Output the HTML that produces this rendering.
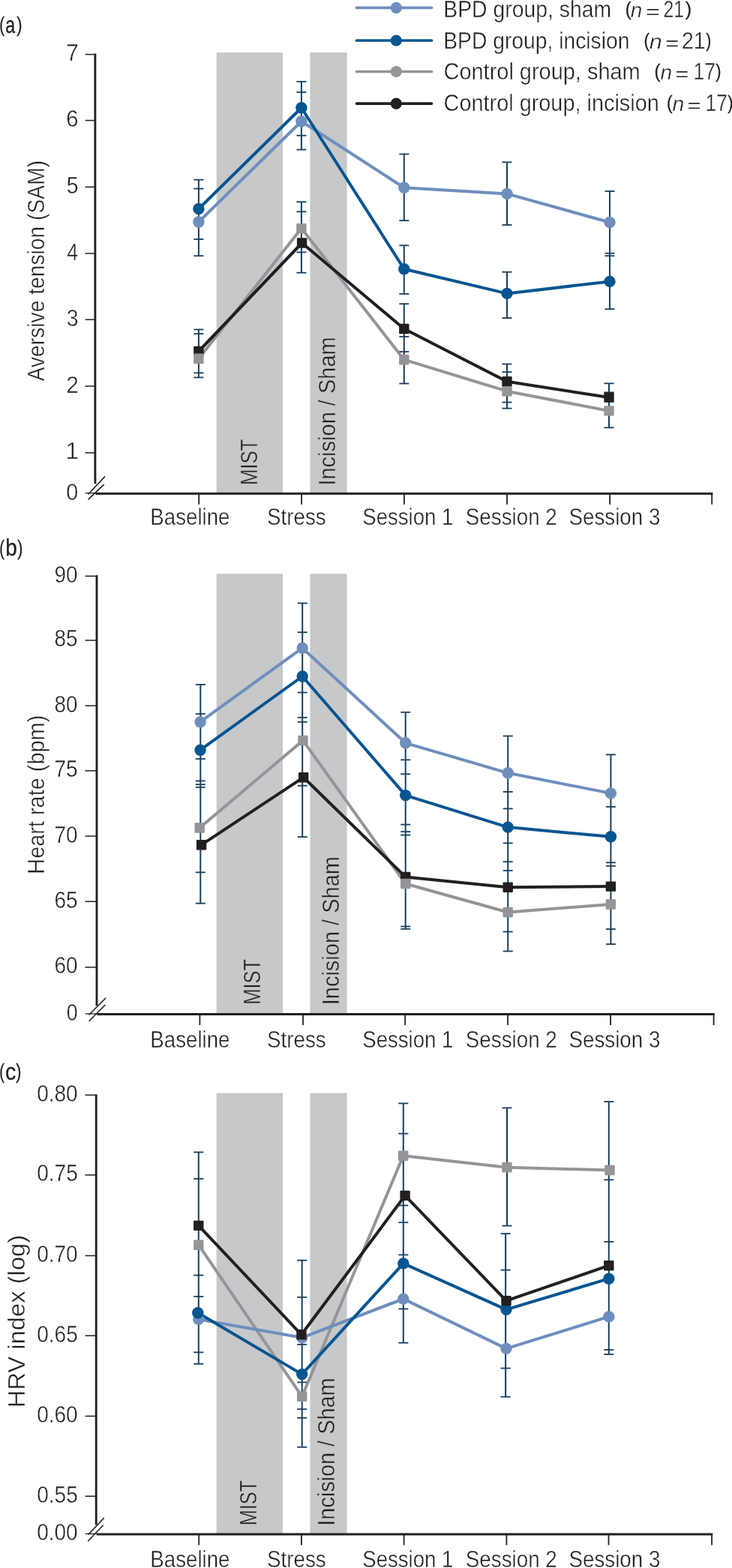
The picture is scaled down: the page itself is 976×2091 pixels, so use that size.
<!DOCTYPE html><html><head><meta charset="utf-8"><title>Figure</title><style>html,body{margin:0;padding:0;background:#fff;}svg{display:block;}text{font-family:"Liberation Sans",Arial,sans-serif;}</style></head><body>
<svg width="976" height="2091" viewBox="0 0 976 2091">
<rect width="976" height="2091" fill="#fff"/>
<rect x="288.7" y="70" width="88.40" height="588.20" fill="#c7c8ca"/>
<rect x="413.4" y="70" width="49.20" height="588.20" fill="#c7c8ca"/>
<text transform="translate(343.00,646.92) rotate(-90)" x="0" y="0" font-size="30.5" textLength="61.43" lengthAdjust="spacingAndGlyphs" fill="#231f20" stroke="#c7c8ca" stroke-width="0.4">MIST</text>
<text transform="translate(446.60,647.58) rotate(-90)" x="0" y="0" font-size="30.5" textLength="198.32" lengthAdjust="spacingAndGlyphs" fill="#231f20" stroke="#c7c8ca" stroke-width="0.4">Incision / Sham</text>
<line x1="126.9" y1="71.4" x2="126.9" y2="645.2" stroke="#231f20" stroke-width="2.9"/>
<line x1="113.5" y1="72.6" x2="126.9" y2="72.6" stroke="#231f20" stroke-width="1.5"/>
<text x="88.32" y="81.10" font-size="30.5" textLength="16.50" lengthAdjust="spacingAndGlyphs" fill="#231f20" stroke="#fff" stroke-width="0.4">7</text>
<line x1="113.5" y1="160.6" x2="126.9" y2="160.6" stroke="#231f20" stroke-width="1.5"/>
<text x="88.34" y="169.10" font-size="30.5" textLength="16.23" lengthAdjust="spacingAndGlyphs" fill="#231f20" stroke="#fff" stroke-width="0.4">6</text>
<line x1="113.5" y1="249.4" x2="126.9" y2="249.4" stroke="#231f20" stroke-width="1.5"/>
<text x="88.66" y="257.90" font-size="30.5" textLength="15.81" lengthAdjust="spacingAndGlyphs" fill="#231f20" stroke="#fff" stroke-width="0.4">5</text>
<line x1="113.5" y1="338.0" x2="126.9" y2="338.0" stroke="#231f20" stroke-width="1.5"/>
<text x="89.20" y="346.50" font-size="30.5" textLength="14.87" lengthAdjust="spacingAndGlyphs" fill="#231f20" stroke="#fff" stroke-width="0.4">4</text>
<line x1="113.5" y1="426.2" x2="126.9" y2="426.2" stroke="#231f20" stroke-width="1.5"/>
<text x="88.73" y="434.70" font-size="30.5" textLength="15.81" lengthAdjust="spacingAndGlyphs" fill="#231f20" stroke="#fff" stroke-width="0.4">3</text>
<line x1="113.5" y1="515.0" x2="126.9" y2="515.0" stroke="#231f20" stroke-width="1.5"/>
<text x="88.32" y="523.50" font-size="30.5" textLength="16.50" lengthAdjust="spacingAndGlyphs" fill="#231f20" stroke="#fff" stroke-width="0.4">2</text>
<line x1="113.5" y1="603.8" x2="126.9" y2="603.8" stroke="#231f20" stroke-width="1.5"/>
<text x="87.46" y="612.30" font-size="30.5" textLength="17.36" lengthAdjust="spacingAndGlyphs" fill="#231f20" stroke="#fff" stroke-width="0.4">1</text>
<line x1="113.8" y1="657.6" x2="127.9" y2="657.6" stroke="#231f20" stroke-width="1.3"/>
<text x="88.35" y="666.50" font-size="30.5" textLength="15.96" lengthAdjust="spacingAndGlyphs" fill="#231f20" stroke="#fff" stroke-width="0.4">0</text>
<line x1="127.4" y1="658.2" x2="950.4000000000001" y2="658.2" stroke="#231f20" stroke-width="2.9"/>
<line x1="265.2" y1="658.2" x2="265.2" y2="672.7" stroke="#231f20" stroke-width="1.8"/>
<line x1="402.1" y1="658.2" x2="402.1" y2="672.7" stroke="#231f20" stroke-width="1.8"/>
<line x1="538.9" y1="658.2" x2="538.9" y2="672.7" stroke="#231f20" stroke-width="1.8"/>
<line x1="676.0" y1="658.2" x2="676.0" y2="672.7" stroke="#231f20" stroke-width="1.8"/>
<line x1="813.1" y1="658.2" x2="813.1" y2="672.7" stroke="#231f20" stroke-width="1.8"/>
<line x1="949.2" y1="658.2" x2="949.2" y2="672.7" stroke="#231f20" stroke-width="1.8"/>
<line x1="117.5" y1="659.30" x2="140.0" y2="635.40" stroke="#231f20" stroke-width="1.6"/>
<line x1="117.5" y1="666.10" x2="138.7" y2="646.10" stroke="#231f20" stroke-width="1.6"/>
<text x="200.32" y="700.00" font-size="30.5" textLength="106.19" lengthAdjust="spacingAndGlyphs" fill="#231f20" stroke="#fff" stroke-width="0.4">Baseline</text>
<text x="356.05" y="700.00" font-size="30.5" textLength="78.59" lengthAdjust="spacingAndGlyphs" fill="#231f20" stroke="#fff" stroke-width="0.4">Stress</text>
<text x="483.26" y="700.00" font-size="30.5" textLength="121.10" lengthAdjust="spacingAndGlyphs" fill="#231f20" stroke="#fff" stroke-width="0.4">Session 1</text>
<text x="620.75" y="700.00" font-size="30.5" textLength="122.09" lengthAdjust="spacingAndGlyphs" fill="#231f20" stroke="#fff" stroke-width="0.4">Session 2</text>
<text x="758.45" y="700.00" font-size="30.5" textLength="121.88" lengthAdjust="spacingAndGlyphs" fill="#231f20" stroke="#fff" stroke-width="0.4">Session 3</text>
<text transform="translate(59.30,508.37) rotate(-90)" x="0" y="0" font-size="30.5" textLength="294.46" lengthAdjust="spacingAndGlyphs" fill="#231f20" stroke="#fff" stroke-width="0.4">Aversive tension (SAM)</text>
<text transform="matrix(0.20377,0,0,0.26810,-0.67,42.44)" x="0" y="0" font-size="100" fill="#231f20" stroke="#231f20" stroke-width="1.284">(</text>
<text transform="matrix(0.23107,0,0,0.31781,7.22,44.38)" x="0" y="0" font-size="100" fill="#231f20" stroke="#231f20" stroke-width="1.107">a</text>
<text transform="matrix(0.21887,0,0,0.26810,22.34,42.44)" x="0" y="0" font-size="100" fill="#231f20" stroke="#231f20" stroke-width="1.238">)</text>
<polyline points="264.90,478.20 401.90,304.60 538.80,479.70 676.00,521.70 812.00,547.90" fill="none" stroke="#949598" stroke-width="4.0" stroke-linejoin="round"/>
<polyline points="264.90,468.50 402.60,324.00 538.80,438.50 676.00,508.80 812.00,530.00" fill="none" stroke="#231f20" stroke-width="4.0" stroke-linejoin="round"/>
<polyline points="264.90,296.00 401.90,161.70 538.80,250.30 676.00,258.40 813.00,296.50" fill="none" stroke="#6e8fbd" stroke-width="4.0" stroke-linejoin="round"/>
<polyline points="264.90,278.50 401.90,143.80 538.80,358.80 676.00,391.40 813.00,375.40" fill="none" stroke="#075591" stroke-width="4.0" stroke-linejoin="round"/>
<line x1="264.9" y1="239.7" x2="264.9" y2="341.2" stroke="#163f60" stroke-width="2"/>
<line x1="258.40" y1="239.7" x2="271.40" y2="239.7" stroke="#163f60" stroke-width="1.8"/>
<line x1="258.40" y1="251.6" x2="271.40" y2="251.6" stroke="#163f60" stroke-width="1.8"/>
<line x1="258.40" y1="319.0" x2="271.40" y2="319.0" stroke="#163f60" stroke-width="1.8"/>
<line x1="258.40" y1="341.2" x2="271.40" y2="341.2" stroke="#163f60" stroke-width="1.8"/>
<line x1="264.9" y1="439.4" x2="264.9" y2="503.4" stroke="#163f60" stroke-width="2"/>
<line x1="258.40" y1="439.4" x2="271.40" y2="439.4" stroke="#163f60" stroke-width="1.8"/>
<line x1="258.40" y1="445.1" x2="271.40" y2="445.1" stroke="#163f60" stroke-width="1.8"/>
<line x1="258.40" y1="497.3" x2="271.40" y2="497.3" stroke="#163f60" stroke-width="1.8"/>
<line x1="258.40" y1="503.4" x2="271.40" y2="503.4" stroke="#163f60" stroke-width="1.8"/>
<line x1="401.9" y1="108.8" x2="401.9" y2="199.6" stroke="#163f60" stroke-width="2"/>
<line x1="395.40" y1="108.8" x2="408.40" y2="108.8" stroke="#163f60" stroke-width="1.8"/>
<line x1="395.40" y1="123.0" x2="408.40" y2="123.0" stroke="#163f60" stroke-width="1.8"/>
<line x1="395.40" y1="180.7" x2="408.40" y2="180.7" stroke="#163f60" stroke-width="1.8"/>
<line x1="395.40" y1="199.6" x2="408.40" y2="199.6" stroke="#163f60" stroke-width="1.8"/>
<line x1="401.9" y1="269.2" x2="401.9" y2="363.7" stroke="#163f60" stroke-width="2"/>
<line x1="395.40" y1="269.2" x2="408.40" y2="269.2" stroke="#163f60" stroke-width="1.8"/>
<line x1="395.40" y1="282.3" x2="408.40" y2="282.3" stroke="#163f60" stroke-width="1.8"/>
<line x1="395.40" y1="336.4" x2="408.40" y2="336.4" stroke="#163f60" stroke-width="1.8"/>
<line x1="395.40" y1="363.7" x2="408.40" y2="363.7" stroke="#163f60" stroke-width="1.8"/>
<line x1="538.8" y1="205.5" x2="538.8" y2="294.1" stroke="#163f60" stroke-width="2"/>
<line x1="532.30" y1="205.5" x2="545.30" y2="205.5" stroke="#163f60" stroke-width="1.8"/>
<line x1="532.30" y1="294.1" x2="545.30" y2="294.1" stroke="#163f60" stroke-width="1.8"/>
<line x1="538.8" y1="327.3" x2="538.8" y2="391.9" stroke="#163f60" stroke-width="2"/>
<line x1="532.30" y1="327.3" x2="545.30" y2="327.3" stroke="#163f60" stroke-width="1.8"/>
<line x1="532.30" y1="391.9" x2="545.30" y2="391.9" stroke="#163f60" stroke-width="1.8"/>
<line x1="538.8" y1="405.2" x2="538.8" y2="511.5" stroke="#163f60" stroke-width="2"/>
<line x1="532.30" y1="405.2" x2="545.30" y2="405.2" stroke="#163f60" stroke-width="1.8"/>
<line x1="532.30" y1="448.9" x2="545.30" y2="448.9" stroke="#163f60" stroke-width="1.8"/>
<line x1="532.30" y1="469.0" x2="545.30" y2="469.0" stroke="#163f60" stroke-width="1.8"/>
<line x1="532.30" y1="511.5" x2="545.30" y2="511.5" stroke="#163f60" stroke-width="1.8"/>
<line x1="676.0" y1="216.3" x2="676.0" y2="300.0" stroke="#163f60" stroke-width="2"/>
<line x1="669.50" y1="216.3" x2="682.50" y2="216.3" stroke="#163f60" stroke-width="1.8"/>
<line x1="669.50" y1="300.0" x2="682.50" y2="300.0" stroke="#163f60" stroke-width="1.8"/>
<line x1="676.0" y1="362.7" x2="676.0" y2="424.1" stroke="#163f60" stroke-width="2"/>
<line x1="669.50" y1="362.7" x2="682.50" y2="362.7" stroke="#163f60" stroke-width="1.8"/>
<line x1="669.50" y1="424.1" x2="682.50" y2="424.1" stroke="#163f60" stroke-width="1.8"/>
<line x1="676.0" y1="485.5" x2="676.0" y2="544.6" stroke="#163f60" stroke-width="2"/>
<line x1="669.50" y1="485.5" x2="682.50" y2="485.5" stroke="#163f60" stroke-width="1.8"/>
<line x1="669.50" y1="496.1" x2="682.50" y2="496.1" stroke="#163f60" stroke-width="1.8"/>
<line x1="669.50" y1="536.5" x2="682.50" y2="536.5" stroke="#163f60" stroke-width="1.8"/>
<line x1="669.50" y1="544.6" x2="682.50" y2="544.6" stroke="#163f60" stroke-width="1.8"/>
<line x1="813.0" y1="255.0" x2="813.0" y2="412.2" stroke="#163f60" stroke-width="2"/>
<line x1="806.50" y1="255.0" x2="819.50" y2="255.0" stroke="#163f60" stroke-width="1.8"/>
<line x1="806.50" y1="337.8" x2="819.50" y2="337.8" stroke="#163f60" stroke-width="1.8"/>
<line x1="806.50" y1="341.2" x2="819.50" y2="341.2" stroke="#163f60" stroke-width="1.8"/>
<line x1="806.50" y1="412.2" x2="819.50" y2="412.2" stroke="#163f60" stroke-width="1.8"/>
<line x1="812.0" y1="511.3" x2="812.0" y2="570.3" stroke="#163f60" stroke-width="2"/>
<line x1="805.50" y1="511.3" x2="818.50" y2="511.3" stroke="#163f60" stroke-width="1.8"/>
<line x1="805.50" y1="523.3" x2="818.50" y2="523.3" stroke="#163f60" stroke-width="1.8"/>
<line x1="805.50" y1="570.3" x2="818.50" y2="570.3" stroke="#163f60" stroke-width="1.8"/>
<circle cx="264.90" cy="296.00" r="7.7" fill="#6e8fbd"/>
<circle cx="401.90" cy="161.70" r="7.7" fill="#6e8fbd"/>
<circle cx="538.80" cy="250.30" r="7.7" fill="#6e8fbd"/>
<circle cx="676.00" cy="258.40" r="7.7" fill="#6e8fbd"/>
<circle cx="813.00" cy="296.50" r="7.7" fill="#6e8fbd"/>
<circle cx="264.90" cy="278.50" r="7.7" fill="#075591"/>
<circle cx="401.90" cy="143.80" r="7.7" fill="#075591"/>
<circle cx="538.80" cy="358.80" r="7.7" fill="#075591"/>
<circle cx="676.00" cy="391.40" r="7.7" fill="#075591"/>
<circle cx="813.00" cy="375.40" r="7.7" fill="#075591"/>
<rect x="258.20" y="461.80" width="13.4" height="13.4" rx="1" fill="#231f20"/>
<rect x="395.90" y="317.30" width="13.4" height="13.4" rx="1" fill="#231f20"/>
<rect x="532.10" y="431.80" width="13.4" height="13.4" rx="1" fill="#231f20"/>
<rect x="669.30" y="502.10" width="13.4" height="13.4" rx="1" fill="#231f20"/>
<rect x="805.30" y="523.30" width="13.4" height="13.4" rx="1" fill="#231f20"/>
<rect x="258.20" y="471.50" width="13.4" height="13.4" rx="1" fill="#949598"/>
<rect x="395.20" y="297.90" width="13.4" height="13.4" rx="1" fill="#949598"/>
<rect x="532.10" y="473.00" width="13.4" height="13.4" rx="1" fill="#949598"/>
<rect x="669.30" y="515.00" width="13.4" height="13.4" rx="1" fill="#949598"/>
<rect x="805.30" y="541.20" width="13.4" height="13.4" rx="1" fill="#949598"/>
<rect x="288.7" y="765.2" width="88.40" height="587.30" fill="#c7c8ca"/>
<rect x="413.4" y="765.2" width="49.20" height="587.30" fill="#c7c8ca"/>
<text transform="translate(347.00,1339.70) rotate(-90)" x="0" y="0" font-size="30.5" textLength="60.80" lengthAdjust="spacingAndGlyphs" fill="#231f20" stroke="#c7c8ca" stroke-width="0.4">MIST</text>
<text transform="translate(451.60,1340.28) rotate(-90)" x="0" y="0" font-size="30.5" textLength="198.21" lengthAdjust="spacingAndGlyphs" fill="#231f20" stroke="#c7c8ca" stroke-width="0.4">Incision / Sham</text>
<line x1="129.0" y1="767.0" x2="129.0" y2="1341.2" stroke="#231f20" stroke-width="2.9"/>
<line x1="113.5" y1="768.3" x2="129.0" y2="768.3" stroke="#231f20" stroke-width="1.5"/>
<text x="72.47" y="776.80" font-size="30.5" textLength="31.04" lengthAdjust="spacingAndGlyphs" fill="#231f20" stroke="#fff" stroke-width="0.4">90</text>
<line x1="113.5" y1="853.9" x2="129.0" y2="853.9" stroke="#231f20" stroke-width="1.5"/>
<text x="72.62" y="862.40" font-size="30.5" textLength="30.96" lengthAdjust="spacingAndGlyphs" fill="#231f20" stroke="#fff" stroke-width="0.4">85</text>
<line x1="113.5" y1="941.1" x2="129.0" y2="941.1" stroke="#231f20" stroke-width="1.5"/>
<text x="72.62" y="949.60" font-size="30.5" textLength="30.89" lengthAdjust="spacingAndGlyphs" fill="#231f20" stroke="#fff" stroke-width="0.4">80</text>
<line x1="113.5" y1="1027.8" x2="129.0" y2="1027.8" stroke="#231f20" stroke-width="1.5"/>
<text x="72.40" y="1036.30" font-size="30.5" textLength="31.19" lengthAdjust="spacingAndGlyphs" fill="#231f20" stroke="#fff" stroke-width="0.4">75</text>
<line x1="113.5" y1="1115.0" x2="129.0" y2="1115.0" stroke="#231f20" stroke-width="1.5"/>
<text x="72.40" y="1123.50" font-size="30.5" textLength="31.11" lengthAdjust="spacingAndGlyphs" fill="#231f20" stroke="#fff" stroke-width="0.4">70</text>
<line x1="113.5" y1="1202.2" x2="129.0" y2="1202.2" stroke="#231f20" stroke-width="1.5"/>
<text x="72.40" y="1210.70" font-size="30.5" textLength="31.19" lengthAdjust="spacingAndGlyphs" fill="#231f20" stroke="#fff" stroke-width="0.4">65</text>
<line x1="113.5" y1="1289.9" x2="129.0" y2="1289.9" stroke="#231f20" stroke-width="1.5"/>
<text x="72.40" y="1298.40" font-size="30.5" textLength="31.11" lengthAdjust="spacingAndGlyphs" fill="#231f20" stroke="#fff" stroke-width="0.4">60</text>
<line x1="113.8" y1="1351.9" x2="130.0" y2="1351.9" stroke="#231f20" stroke-width="1.3"/>
<text x="88.74" y="1360.80" font-size="30.5" textLength="14.79" lengthAdjust="spacingAndGlyphs" fill="#231f20" stroke="#fff" stroke-width="0.4">0</text>
<line x1="129.5" y1="1352.5" x2="952.8000000000001" y2="1352.5" stroke="#231f20" stroke-width="2.9"/>
<line x1="266.4" y1="1352.5" x2="266.4" y2="1367.0" stroke="#231f20" stroke-width="1.8"/>
<line x1="404.0" y1="1352.5" x2="404.0" y2="1367.0" stroke="#231f20" stroke-width="1.8"/>
<line x1="540.2" y1="1352.5" x2="540.2" y2="1367.0" stroke="#231f20" stroke-width="1.8"/>
<line x1="677.0" y1="1352.5" x2="677.0" y2="1367.0" stroke="#231f20" stroke-width="1.8"/>
<line x1="814.1" y1="1352.5" x2="814.1" y2="1367.0" stroke="#231f20" stroke-width="1.8"/>
<line x1="951.6" y1="1352.5" x2="951.6" y2="1367.0" stroke="#231f20" stroke-width="1.8"/>
<line x1="118.4" y1="1353.50" x2="141.2" y2="1330.80" stroke="#231f20" stroke-width="1.6"/>
<line x1="118.7" y1="1361.80" x2="140.3" y2="1340.00" stroke="#231f20" stroke-width="1.6"/>
<text x="200.32" y="1396.80" font-size="30.5" textLength="106.19" lengthAdjust="spacingAndGlyphs" fill="#231f20" stroke="#fff" stroke-width="0.4">Baseline</text>
<text x="356.05" y="1396.80" font-size="30.5" textLength="78.59" lengthAdjust="spacingAndGlyphs" fill="#231f20" stroke="#fff" stroke-width="0.4">Stress</text>
<text x="483.26" y="1396.80" font-size="30.5" textLength="121.10" lengthAdjust="spacingAndGlyphs" fill="#231f20" stroke="#fff" stroke-width="0.4">Session 1</text>
<text x="620.75" y="1396.80" font-size="30.5" textLength="122.09" lengthAdjust="spacingAndGlyphs" fill="#231f20" stroke="#fff" stroke-width="0.4">Session 2</text>
<text x="758.45" y="1396.80" font-size="30.5" textLength="121.88" lengthAdjust="spacingAndGlyphs" fill="#231f20" stroke="#fff" stroke-width="0.4">Session 3</text>
<text transform="translate(59.00,1165.68) rotate(-90)" x="0" y="0" font-size="30.5" textLength="211.94" lengthAdjust="spacingAndGlyphs" fill="#231f20" stroke="#fff" stroke-width="0.4">Heart rate (bpm)</text>
<text transform="matrix(0.20000,0,0,0.27239,-0.65,739.55)" x="0" y="0" font-size="100" fill="#231f20" stroke="#231f20" stroke-width="1.285">(</text>
<text transform="matrix(0.28000,0,0,0.30612,7.28,741.39)" x="0" y="0" font-size="100" fill="#231f20" stroke="#231f20" stroke-width="1.025">b</text>
<text transform="matrix(0.21509,0,0,0.27239,23.24,739.55)" x="0" y="0" font-size="100" fill="#231f20" stroke="#231f20" stroke-width="1.239">)</text>
<polyline points="266.20,1104.00 404.00,987.40 540.70,1178.50 677.20,1216.50 814.40,1206.00" fill="none" stroke="#949598" stroke-width="4.0" stroke-linejoin="round"/>
<polyline points="268.60,1126.70 404.70,1036.70 540.70,1169.40 677.20,1183.30 814.40,1182.10" fill="none" stroke="#231f20" stroke-width="4.0" stroke-linejoin="round"/>
<polyline points="267.10,962.70 403.20,864.20 540.70,990.80 677.20,1030.80 814.40,1057.90" fill="none" stroke="#6e8fbd" stroke-width="4.0" stroke-linejoin="round"/>
<polyline points="267.10,1000.20 403.20,902.00 540.70,1060.60 677.20,1103.10 814.40,1115.80" fill="none" stroke="#075591" stroke-width="4.0" stroke-linejoin="round"/>
<line x1="267.3" y1="912.9" x2="267.3" y2="1204.7" stroke="#163f60" stroke-width="2"/>
<line x1="260.80" y1="912.9" x2="273.80" y2="912.9" stroke="#163f60" stroke-width="1.8"/>
<line x1="260.80" y1="952.0" x2="273.80" y2="952.0" stroke="#163f60" stroke-width="1.8"/>
<line x1="260.80" y1="1012.0" x2="273.80" y2="1012.0" stroke="#163f60" stroke-width="1.8"/>
<line x1="260.80" y1="1041.4" x2="273.80" y2="1041.4" stroke="#163f60" stroke-width="1.8"/>
<line x1="260.80" y1="1046.2" x2="273.80" y2="1046.2" stroke="#163f60" stroke-width="1.8"/>
<line x1="260.80" y1="1049.8" x2="273.80" y2="1049.8" stroke="#163f60" stroke-width="1.8"/>
<line x1="260.80" y1="1163.3" x2="273.80" y2="1163.3" stroke="#163f60" stroke-width="1.8"/>
<line x1="260.80" y1="1204.7" x2="273.80" y2="1204.7" stroke="#163f60" stroke-width="1.8"/>
<line x1="403.2" y1="804.4" x2="403.2" y2="1116.1" stroke="#163f60" stroke-width="2"/>
<line x1="396.70" y1="804.4" x2="409.70" y2="804.4" stroke="#163f60" stroke-width="1.8"/>
<line x1="396.70" y1="843.2" x2="409.70" y2="843.2" stroke="#163f60" stroke-width="1.8"/>
<line x1="396.70" y1="923.5" x2="409.70" y2="923.5" stroke="#163f60" stroke-width="1.8"/>
<line x1="396.70" y1="956.8" x2="409.70" y2="956.8" stroke="#163f60" stroke-width="1.8"/>
<line x1="396.70" y1="962.8" x2="409.70" y2="962.8" stroke="#163f60" stroke-width="1.8"/>
<line x1="396.70" y1="1047.7" x2="409.70" y2="1047.7" stroke="#163f60" stroke-width="1.8"/>
<line x1="396.70" y1="1116.1" x2="409.70" y2="1116.1" stroke="#163f60" stroke-width="1.8"/>
<line x1="540.7" y1="949.8" x2="540.7" y2="1238.8" stroke="#163f60" stroke-width="2"/>
<line x1="534.20" y1="949.8" x2="547.20" y2="949.8" stroke="#163f60" stroke-width="1.8"/>
<line x1="534.20" y1="1013.3" x2="547.20" y2="1013.3" stroke="#163f60" stroke-width="1.8"/>
<line x1="534.20" y1="1032.2" x2="547.20" y2="1032.2" stroke="#163f60" stroke-width="1.8"/>
<line x1="534.20" y1="1099.6" x2="547.20" y2="1099.6" stroke="#163f60" stroke-width="1.8"/>
<line x1="534.20" y1="1109.1" x2="547.20" y2="1109.1" stroke="#163f60" stroke-width="1.8"/>
<line x1="534.20" y1="1113.6" x2="547.20" y2="1113.6" stroke="#163f60" stroke-width="1.8"/>
<line x1="534.20" y1="1235.5" x2="547.20" y2="1235.5" stroke="#163f60" stroke-width="1.8"/>
<line x1="534.20" y1="1238.8" x2="547.20" y2="1238.8" stroke="#163f60" stroke-width="1.8"/>
<line x1="677.2" y1="981.5" x2="677.2" y2="1268.5" stroke="#163f60" stroke-width="2"/>
<line x1="670.70" y1="981.5" x2="683.70" y2="981.5" stroke="#163f60" stroke-width="1.8"/>
<line x1="670.70" y1="1055.9" x2="683.70" y2="1055.9" stroke="#163f60" stroke-width="1.8"/>
<line x1="670.70" y1="1078.4" x2="683.70" y2="1078.4" stroke="#163f60" stroke-width="1.8"/>
<line x1="670.70" y1="1124.4" x2="683.70" y2="1124.4" stroke="#163f60" stroke-width="1.8"/>
<line x1="670.70" y1="1149.2" x2="683.70" y2="1149.2" stroke="#163f60" stroke-width="1.8"/>
<line x1="670.70" y1="1161.0" x2="683.70" y2="1161.0" stroke="#163f60" stroke-width="1.8"/>
<line x1="670.70" y1="1242.5" x2="683.70" y2="1242.5" stroke="#163f60" stroke-width="1.8"/>
<line x1="670.70" y1="1268.5" x2="683.70" y2="1268.5" stroke="#163f60" stroke-width="1.8"/>
<line x1="814.4" y1="1006.3" x2="814.4" y2="1259.1" stroke="#163f60" stroke-width="2"/>
<line x1="807.90" y1="1006.3" x2="820.90" y2="1006.3" stroke="#163f60" stroke-width="1.8"/>
<line x1="807.90" y1="1075.9" x2="820.90" y2="1075.9" stroke="#163f60" stroke-width="1.8"/>
<line x1="807.90" y1="1150.3" x2="820.90" y2="1150.3" stroke="#163f60" stroke-width="1.8"/>
<line x1="807.90" y1="1154.8" x2="820.90" y2="1154.8" stroke="#163f60" stroke-width="1.8"/>
<line x1="807.90" y1="1239.0" x2="820.90" y2="1239.0" stroke="#163f60" stroke-width="1.8"/>
<line x1="807.90" y1="1259.1" x2="820.90" y2="1259.1" stroke="#163f60" stroke-width="1.8"/>
<circle cx="267.10" cy="962.70" r="7.7" fill="#6e8fbd"/>
<circle cx="403.20" cy="864.20" r="7.7" fill="#6e8fbd"/>
<circle cx="540.70" cy="990.80" r="7.7" fill="#6e8fbd"/>
<circle cx="677.20" cy="1030.80" r="7.7" fill="#6e8fbd"/>
<circle cx="814.40" cy="1057.90" r="7.7" fill="#6e8fbd"/>
<circle cx="267.10" cy="1000.20" r="7.7" fill="#075591"/>
<circle cx="403.20" cy="902.00" r="7.7" fill="#075591"/>
<circle cx="540.70" cy="1060.60" r="7.7" fill="#075591"/>
<circle cx="677.20" cy="1103.10" r="7.7" fill="#075591"/>
<circle cx="814.40" cy="1115.80" r="7.7" fill="#075591"/>
<rect x="261.90" y="1120.00" width="13.4" height="13.4" rx="1" fill="#231f20"/>
<rect x="398.00" y="1030.00" width="13.4" height="13.4" rx="1" fill="#231f20"/>
<rect x="534.00" y="1162.70" width="13.4" height="13.4" rx="1" fill="#231f20"/>
<rect x="670.50" y="1176.60" width="13.4" height="13.4" rx="1" fill="#231f20"/>
<rect x="807.70" y="1175.40" width="13.4" height="13.4" rx="1" fill="#231f20"/>
<rect x="259.50" y="1097.30" width="13.4" height="13.4" rx="1" fill="#949598"/>
<rect x="397.30" y="980.70" width="13.4" height="13.4" rx="1" fill="#949598"/>
<rect x="534.00" y="1171.80" width="13.4" height="13.4" rx="1" fill="#949598"/>
<rect x="670.50" y="1209.80" width="13.4" height="13.4" rx="1" fill="#949598"/>
<rect x="807.70" y="1199.30" width="13.4" height="13.4" rx="1" fill="#949598"/>
<rect x="288.7" y="1457.6" width="88.40" height="588.40" fill="#c7c8ca"/>
<rect x="413.4" y="1457.6" width="49.20" height="588.40" fill="#c7c8ca"/>
<text transform="translate(341.50,2034.17) rotate(-90)" x="0" y="0" font-size="30.5" textLength="59.86" lengthAdjust="spacingAndGlyphs" fill="#231f20" stroke="#c7c8ca" stroke-width="0.4">MIST</text>
<text transform="translate(445.70,2034.77) rotate(-90)" x="0" y="0" font-size="30.5" textLength="197.29" lengthAdjust="spacingAndGlyphs" fill="#231f20" stroke="#c7c8ca" stroke-width="0.4">Incision / Sham</text>
<line x1="128.2" y1="1459.5" x2="128.2" y2="2033.4" stroke="#231f20" stroke-width="2.9"/>
<line x1="113.5" y1="1460.3" x2="128.2" y2="1460.3" stroke="#231f20" stroke-width="1.5"/>
<text x="49.18" y="1468.80" font-size="30.5" textLength="54.51" lengthAdjust="spacingAndGlyphs" fill="#231f20" stroke="#fff" stroke-width="0.4">0.80</text>
<line x1="113.5" y1="1566.9" x2="128.2" y2="1566.9" stroke="#231f20" stroke-width="1.5"/>
<text x="49.18" y="1575.40" font-size="30.5" textLength="54.58" lengthAdjust="spacingAndGlyphs" fill="#231f20" stroke="#fff" stroke-width="0.4">0.75</text>
<line x1="113.5" y1="1674.5" x2="128.2" y2="1674.5" stroke="#231f20" stroke-width="1.5"/>
<text x="49.18" y="1683.00" font-size="30.5" textLength="54.51" lengthAdjust="spacingAndGlyphs" fill="#231f20" stroke="#fff" stroke-width="0.4">0.70</text>
<line x1="113.5" y1="1781.2" x2="128.2" y2="1781.2" stroke="#231f20" stroke-width="1.5"/>
<text x="49.18" y="1789.70" font-size="30.5" textLength="54.58" lengthAdjust="spacingAndGlyphs" fill="#231f20" stroke="#fff" stroke-width="0.4">0.65</text>
<line x1="113.5" y1="1888.5" x2="128.2" y2="1888.5" stroke="#231f20" stroke-width="1.5"/>
<text x="49.18" y="1897.00" font-size="30.5" textLength="54.51" lengthAdjust="spacingAndGlyphs" fill="#231f20" stroke="#fff" stroke-width="0.4">0.60</text>
<line x1="113.5" y1="1995.3" x2="128.2" y2="1995.3" stroke="#231f20" stroke-width="1.5"/>
<text x="49.18" y="2003.80" font-size="30.5" textLength="54.58" lengthAdjust="spacingAndGlyphs" fill="#231f20" stroke="#fff" stroke-width="0.4">0.55</text>
<line x1="113.8" y1="2045.4" x2="129.2" y2="2045.4" stroke="#231f20" stroke-width="1.3"/>
<text x="49.18" y="2054.30" font-size="30.5" textLength="54.51" lengthAdjust="spacingAndGlyphs" fill="#231f20" stroke="#fff" stroke-width="0.4">0.00</text>
<line x1="128.7" y1="2046.0" x2="950.3000000000001" y2="2046.0" stroke="#231f20" stroke-width="2.9"/>
<line x1="265.2" y1="2046.0" x2="265.2" y2="2060.5" stroke="#231f20" stroke-width="1.8"/>
<line x1="401.9" y1="2046.0" x2="401.9" y2="2060.5" stroke="#231f20" stroke-width="1.8"/>
<line x1="538.6" y1="2046.0" x2="538.6" y2="2060.5" stroke="#231f20" stroke-width="1.8"/>
<line x1="675.4" y1="2046.0" x2="675.4" y2="2060.5" stroke="#231f20" stroke-width="1.8"/>
<line x1="811.5" y1="2046.0" x2="811.5" y2="2060.5" stroke="#231f20" stroke-width="1.8"/>
<line x1="949.1" y1="2046.0" x2="949.1" y2="2060.5" stroke="#231f20" stroke-width="1.8"/>
<line x1="117.5" y1="2046.60" x2="138.7" y2="2024.30" stroke="#231f20" stroke-width="1.6"/>
<line x1="117.2" y1="2055.20" x2="137.8" y2="2033.70" stroke="#231f20" stroke-width="1.6"/>
<text x="200.32" y="2089.60" font-size="30.5" textLength="106.19" lengthAdjust="spacingAndGlyphs" fill="#231f20" stroke="#fff" stroke-width="0.4">Baseline</text>
<text x="356.05" y="2089.60" font-size="30.5" textLength="78.59" lengthAdjust="spacingAndGlyphs" fill="#231f20" stroke="#fff" stroke-width="0.4">Stress</text>
<text x="483.26" y="2089.60" font-size="30.5" textLength="121.10" lengthAdjust="spacingAndGlyphs" fill="#231f20" stroke="#fff" stroke-width="0.4">Session 1</text>
<text x="620.75" y="2089.60" font-size="30.5" textLength="122.09" lengthAdjust="spacingAndGlyphs" fill="#231f20" stroke="#fff" stroke-width="0.4">Session 2</text>
<text x="758.45" y="2089.60" font-size="30.5" textLength="121.88" lengthAdjust="spacingAndGlyphs" fill="#231f20" stroke="#fff" stroke-width="0.4">Session 3</text>
<text transform="translate(32.90,1877.50) rotate(-90)" x="0" y="0" font-size="30.5" textLength="230.78" lengthAdjust="spacingAndGlyphs" fill="#231f20" stroke="#fff" stroke-width="0.4">HRV index (log)</text>
<text transform="matrix(0.20000,0,0,0.27668,-0.65,1438.06)" x="0" y="0" font-size="100" fill="#231f20" stroke="#231f20" stroke-width="1.275">(</text>
<text transform="matrix(0.28605,0,0,0.31963,6.98,1439.88)" x="0" y="0" font-size="100" fill="#231f20" stroke="#231f20" stroke-width="0.992">c</text>
<text transform="matrix(0.21509,0,0,0.27668,21.14,1438.06)" x="0" y="0" font-size="100" fill="#231f20" stroke="#231f20" stroke-width="1.230">)</text>
<polyline points="264.80,1660.20 402.70,1862.30 537.70,1541.20 676.00,1556.70 813.00,1560.50" fill="none" stroke="#949598" stroke-width="4.0" stroke-linejoin="round"/>
<polyline points="264.80,1634.40 401.90,1779.80 540.10,1594.40 675.00,1734.60 811.80,1687.70" fill="none" stroke="#231f20" stroke-width="4.0" stroke-linejoin="round"/>
<polyline points="264.80,1759.40 402.70,1783.80 537.80,1732.10 675.00,1798.40 811.80,1755.90" fill="none" stroke="#6e8fbd" stroke-width="4.0" stroke-linejoin="round"/>
<polyline points="263.80,1750.80 402.70,1832.60 537.80,1684.90 675.00,1746.30 811.80,1705.20" fill="none" stroke="#075591" stroke-width="4.0" stroke-linejoin="round"/>
<line x1="264.8" y1="1536.5" x2="264.8" y2="1818.8" stroke="#163f60" stroke-width="2"/>
<line x1="258.30" y1="1536.5" x2="271.30" y2="1536.5" stroke="#163f60" stroke-width="1.8"/>
<line x1="258.30" y1="1572.0" x2="271.30" y2="1572.0" stroke="#163f60" stroke-width="1.8"/>
<line x1="258.30" y1="1700.6" x2="271.30" y2="1700.6" stroke="#163f60" stroke-width="1.8"/>
<line x1="258.30" y1="1729.0" x2="271.30" y2="1729.0" stroke="#163f60" stroke-width="1.8"/>
<line x1="258.30" y1="1803.4" x2="271.30" y2="1803.4" stroke="#163f60" stroke-width="1.8"/>
<line x1="258.30" y1="1818.8" x2="271.30" y2="1818.8" stroke="#163f60" stroke-width="1.8"/>
<line x1="402.7" y1="1680.7" x2="402.7" y2="1929.8" stroke="#163f60" stroke-width="2"/>
<line x1="396.20" y1="1680.7" x2="409.20" y2="1680.7" stroke="#163f60" stroke-width="1.8"/>
<line x1="396.20" y1="1729.9" x2="409.20" y2="1729.9" stroke="#163f60" stroke-width="1.8"/>
<line x1="396.20" y1="1792.9" x2="409.20" y2="1792.9" stroke="#163f60" stroke-width="1.8"/>
<line x1="396.20" y1="1843.4" x2="409.20" y2="1843.4" stroke="#163f60" stroke-width="1.8"/>
<line x1="396.20" y1="1879.2" x2="409.20" y2="1879.2" stroke="#163f60" stroke-width="1.8"/>
<line x1="396.20" y1="1890.8" x2="409.20" y2="1890.8" stroke="#163f60" stroke-width="1.8"/>
<line x1="396.20" y1="1929.8" x2="409.20" y2="1929.8" stroke="#163f60" stroke-width="1.8"/>
<line x1="537.8" y1="1471.4" x2="537.8" y2="1790.7" stroke="#163f60" stroke-width="2"/>
<line x1="531.30" y1="1471.4" x2="544.30" y2="1471.4" stroke="#163f60" stroke-width="1.8"/>
<line x1="531.30" y1="1511.7" x2="544.30" y2="1511.7" stroke="#163f60" stroke-width="1.8"/>
<line x1="531.30" y1="1607.5" x2="544.30" y2="1607.5" stroke="#163f60" stroke-width="1.8"/>
<line x1="531.30" y1="1630.2" x2="544.30" y2="1630.2" stroke="#163f60" stroke-width="1.8"/>
<line x1="531.30" y1="1673.4" x2="544.30" y2="1673.4" stroke="#163f60" stroke-width="1.8"/>
<line x1="531.30" y1="1745.5" x2="544.30" y2="1745.5" stroke="#163f60" stroke-width="1.8"/>
<line x1="531.30" y1="1790.7" x2="544.30" y2="1790.7" stroke="#163f60" stroke-width="1.8"/>
<line x1="676.0" y1="1477.4" x2="676.0" y2="1634.6" stroke="#163f60" stroke-width="2"/>
<line x1="669.50" y1="1477.4" x2="682.50" y2="1477.4" stroke="#163f60" stroke-width="1.8"/>
<line x1="669.50" y1="1634.6" x2="682.50" y2="1634.6" stroke="#163f60" stroke-width="1.8"/>
<line x1="674.1" y1="1645.1" x2="674.1" y2="1862.7" stroke="#163f60" stroke-width="2"/>
<line x1="667.60" y1="1645.1" x2="680.60" y2="1645.1" stroke="#163f60" stroke-width="1.8"/>
<line x1="667.60" y1="1693.6" x2="680.60" y2="1693.6" stroke="#163f60" stroke-width="1.8"/>
<line x1="667.60" y1="1824.6" x2="680.60" y2="1824.6" stroke="#163f60" stroke-width="1.8"/>
<line x1="667.60" y1="1862.7" x2="680.60" y2="1862.7" stroke="#163f60" stroke-width="1.8"/>
<line x1="811.8" y1="1469.1" x2="811.8" y2="1806.1" stroke="#163f60" stroke-width="2"/>
<line x1="805.30" y1="1469.1" x2="818.30" y2="1469.1" stroke="#163f60" stroke-width="1.8"/>
<line x1="805.30" y1="1573.3" x2="818.30" y2="1573.3" stroke="#163f60" stroke-width="1.8"/>
<line x1="805.30" y1="1655.9" x2="818.30" y2="1655.9" stroke="#163f60" stroke-width="1.8"/>
<line x1="805.30" y1="1800.1" x2="818.30" y2="1800.1" stroke="#163f60" stroke-width="1.8"/>
<line x1="805.30" y1="1806.1" x2="818.30" y2="1806.1" stroke="#163f60" stroke-width="1.8"/>
<circle cx="264.80" cy="1759.40" r="7.7" fill="#6e8fbd"/>
<circle cx="402.70" cy="1783.80" r="7.7" fill="#6e8fbd"/>
<circle cx="537.80" cy="1732.10" r="7.7" fill="#6e8fbd"/>
<circle cx="675.00" cy="1798.40" r="7.7" fill="#6e8fbd"/>
<circle cx="811.80" cy="1755.90" r="7.7" fill="#6e8fbd"/>
<circle cx="263.80" cy="1750.80" r="7.7" fill="#075591"/>
<circle cx="402.70" cy="1832.60" r="7.7" fill="#075591"/>
<circle cx="537.80" cy="1684.90" r="7.7" fill="#075591"/>
<circle cx="675.00" cy="1746.30" r="7.7" fill="#075591"/>
<circle cx="811.80" cy="1705.20" r="7.7" fill="#075591"/>
<rect x="258.10" y="1627.70" width="13.4" height="13.4" rx="1" fill="#231f20"/>
<rect x="395.20" y="1773.10" width="13.4" height="13.4" rx="1" fill="#231f20"/>
<rect x="533.40" y="1587.70" width="13.4" height="13.4" rx="1" fill="#231f20"/>
<rect x="668.30" y="1727.90" width="13.4" height="13.4" rx="1" fill="#231f20"/>
<rect x="805.10" y="1681.00" width="13.4" height="13.4" rx="1" fill="#231f20"/>
<rect x="258.10" y="1653.50" width="13.4" height="13.4" rx="1" fill="#949598"/>
<rect x="396.00" y="1855.60" width="13.4" height="13.4" rx="1" fill="#949598"/>
<rect x="531.00" y="1534.50" width="13.4" height="13.4" rx="1" fill="#949598"/>
<rect x="669.30" y="1550.00" width="13.4" height="13.4" rx="1" fill="#949598"/>
<rect x="806.30" y="1553.80" width="13.4" height="13.4" rx="1" fill="#949598"/>
<line x1="475.5" y1="10.3" x2="575.5" y2="10.3" stroke="#6e8fbd" stroke-width="3.7" stroke-linecap="round"/>
<circle cx="528.3" cy="10.3" r="7.6" fill="#6e8fbd"/>
<text x="591.26" y="22.70" font-size="30.5" textLength="223.89" lengthAdjust="spacingAndGlyphs" fill="#231f20" stroke="#fff" stroke-width="0.4">BPD group, sham</text>
<text transform="matrix(0.23396,0,0,0.26381,833.64,20.83)" x="0" y="0" font-size="100" fill="#231f20" stroke="#231f20" stroke-width="1.208">(</text>
<text transform="matrix(0.28020,0,0,0.27535,840.81,22.70)" x="0" y="0" font-size="100" fill="#231f20" stroke="#fff" stroke-width="1.440" font-style="italic">n</text>
<text transform="matrix(0.31590,0,0,0.25426,861.30,23.96)" x="0" y="0" font-size="100" fill="#231f20" stroke="#fff" stroke-width="0.706">=</text>
<text x="884.56" y="22.70" font-size="30.5" textLength="27.58" lengthAdjust="spacingAndGlyphs" fill="#231f20" stroke="#fff" stroke-width="0.4">21</text>
<text transform="matrix(0.25283,0,0,0.26381,913.81,20.83)" x="0" y="0" font-size="100" fill="#231f20" stroke="#231f20" stroke-width="1.162">)</text>
<line x1="475.5" y1="54.0" x2="575.5" y2="54.0" stroke="#075591" stroke-width="3.7" stroke-linecap="round"/>
<circle cx="528.3" cy="54.0" r="7.6" fill="#075591"/>
<text x="591.27" y="64.60" font-size="30.5" textLength="248.10" lengthAdjust="spacingAndGlyphs" fill="#231f20" stroke="#fff" stroke-width="0.4">BPD group, incision</text>
<text transform="matrix(0.22642,0,0,0.26381,858.58,62.73)" x="0" y="0" font-size="100" fill="#231f20" stroke="#231f20" stroke-width="1.228">(</text>
<text transform="matrix(0.30660,0,0,0.27535,865.86,64.60)" x="0" y="0" font-size="100" fill="#231f20" stroke="#fff" stroke-width="1.377" font-style="italic">n</text>
<text transform="matrix(0.31179,0,0,0.25426,887.22,65.86)" x="0" y="0" font-size="100" fill="#231f20" stroke="#fff" stroke-width="0.710">=</text>
<text x="908.88" y="64.60" font-size="30.5" textLength="31.64" lengthAdjust="spacingAndGlyphs" fill="#231f20" stroke="#fff" stroke-width="0.4">21</text>
<text transform="matrix(0.21132,0,0,0.26381,941.34,62.73)" x="0" y="0" font-size="100" fill="#231f20" stroke="#231f20" stroke-width="1.271">)</text>
<line x1="475.5" y1="95.5" x2="575.5" y2="95.5" stroke="#949598" stroke-width="3.7" stroke-linecap="round"/>
<circle cx="528.3" cy="95.5" r="7.6" fill="#949598"/>
<text x="591.55" y="106.10" font-size="30.5" textLength="262.14" lengthAdjust="spacingAndGlyphs" fill="#231f20" stroke="#fff" stroke-width="0.4">Control group, sham</text>
<text transform="matrix(0.23774,0,0,0.26381,872.61,104.23)" x="0" y="0" font-size="100" fill="#231f20" stroke="#231f20" stroke-width="1.198">(</text>
<text transform="matrix(0.28223,0,0,0.27535,880.61,106.10)" x="0" y="0" font-size="100" fill="#231f20" stroke="#fff" stroke-width="1.435" font-style="italic">n</text>
<text transform="matrix(0.30564,0,0,0.25426,900.55,107.36)" x="0" y="0" font-size="100" fill="#231f20" stroke="#fff" stroke-width="0.717">=</text>
<text x="924.41" y="106.10" font-size="30.5" textLength="29.59" lengthAdjust="spacingAndGlyphs" fill="#231f20" stroke="#fff" stroke-width="0.4">17</text>
<text transform="matrix(0.21887,0,0,0.26381,954.14,104.23)" x="0" y="0" font-size="100" fill="#231f20" stroke="#231f20" stroke-width="1.248">)</text>
<line x1="475.5" y1="138.1" x2="575.5" y2="138.1" stroke="#231f20" stroke-width="3.7" stroke-linecap="round"/>
<circle cx="528.3" cy="138.1" r="7.6" fill="#231f20"/>
<text x="591.56" y="147.90" font-size="30.5" textLength="287.25" lengthAdjust="spacingAndGlyphs" fill="#231f20" stroke="#fff" stroke-width="0.4">Control group, incision</text>
<text transform="matrix(0.22642,0,0,0.26381,888.98,146.03)" x="0" y="0" font-size="100" fill="#231f20" stroke="#231f20" stroke-width="1.228">(</text>
<text transform="matrix(0.28426,0,0,0.27535,896.60,147.90)" x="0" y="0" font-size="100" fill="#231f20" stroke="#fff" stroke-width="1.430" font-style="italic">n</text>
<text transform="matrix(0.30974,0,0,0.25426,916.53,149.16)" x="0" y="0" font-size="100" fill="#231f20" stroke="#fff" stroke-width="0.713">=</text>
<text x="940.41" y="147.90" font-size="30.5" textLength="29.47" lengthAdjust="spacingAndGlyphs" fill="#231f20" stroke="#fff" stroke-width="0.4">17</text>
<text transform="matrix(0.21887,0,0,0.26381,970.14,146.03)" x="0" y="0" font-size="100" fill="#231f20" stroke="#231f20" stroke-width="1.248">)</text>
</svg></body></html>
